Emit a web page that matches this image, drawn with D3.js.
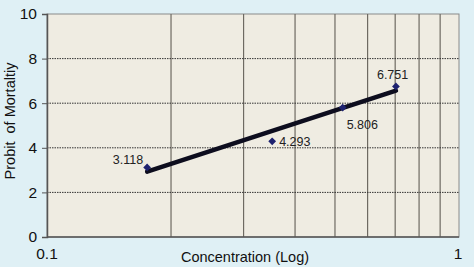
<!DOCTYPE html>
<html>
<head>
<meta charset="utf-8">
<script src="https://cdn.jsdelivr.net/npm/d3@7"></script>
<style>
  html,body{margin:0;padding:0;background:#dff0f5;}
  svg{display:block;font-family:Arial,"Liberation Sans",sans-serif;}
  text{white-space:pre;}
</style>
</head>
<body>
<svg id="chart" width="474" height="267"></svg>
<script>
// concentration and probit values
var conc = [0.175, 0.352, 0.522, 0.703];
var probit = [3.118, 4.293, 5.806, 6.751];
var labels = ["3.118", "4.293", "5.806", "6.751"];
// trend line ends
var trendX = [0.175, 0.703];
var trendY = [2.93, 6.56];
var yTicks = [0, 2, 4, 6, 8, 10];
var xGrid = [0.2, 0.3, 0.4, 0.5, 0.6, 0.7, 0.8, 0.9];

var W = 474, H = 267;
var m = {top: 14, right: 15, bottom: 30, left: 47};
var svg = d3.select("#chart");

var x = d3.scaleLog().domain([0.1, 1]).range([m.left, W - m.right]);
var y = d3.scaleLinear().domain([0, 10]).range([H - m.bottom, m.top]);

// plot area
svg.append("rect")
  .attr("x", x(0.1)).attr("y", y(10))
  .attr("width", x(1) - x(0.1)).attr("height", y(0) - y(10))
  .attr("fill", "#efece2").attr("stroke", "#8a8a8a").attr("stroke-width", 1);

// vertical grid
svg.selectAll(".vg").data(xGrid).enter().append("line")
  .attr("x1", function(d){ return x(d); }).attr("x2", function(d){ return x(d); })
  .attr("y1", y(10)).attr("y2", y(0))
  .attr("stroke", "#6e6a62").attr("stroke-width", 1.2);

// horizontal grid, dotted
svg.selectAll(".hg").data(yTicks.slice(1, -1)).enter().append("line")
  .attr("x1", x(0.1)).attr("x2", x(1))
  .attr("y1", function(d){ return y(d); }).attr("y2", function(d){ return y(d); })
  .attr("stroke", "#333").attr("stroke-width", 1).attr("stroke-dasharray", "1.5,1");

// axes
var yAxis = d3.axisLeft(y).tickValues(yTicks).tickSize(5).tickPadding(5);
var gy = svg.append("g").attr("transform", "translate(" + x(0.1) + ",0)").call(yAxis);
gy.select(".domain").attr("stroke", "#555").attr("stroke-width", 1.5);
gy.selectAll(".tick line").attr("stroke", "#555");
gy.selectAll("text").attr("font-size", 15.5).attr("fill", "#111").attr("font-family", "Arial,'Liberation Sans',sans-serif");

svg.append("line")
  .attr("x1", x(0.1)).attr("x2", x(1)).attr("y1", y(0)).attr("y2", y(0))
  .attr("stroke", "#555").attr("stroke-width", 1.5);

var gx = svg.append("g");
gx.selectAll("text").data([0.1, 1]).enter().append("text")
  .attr("x", function(d){ return x(d) + (d === 1 ? -1 : 0); })
  .attr("y", 259)
  .attr("text-anchor", "middle")
  .attr("font-size", 15.5).attr("fill", "#111")
  .text(function(d){ return d; });

// titles
svg.append("text")
  .attr("x", 245).attr("y", 262)
  .attr("text-anchor", "middle").attr("font-size", 14.5).attr("fill", "#111")
  .text("Concentration (Log)");
svg.append("text")
  .attr("transform", "translate(15,121) rotate(-90)")
  .attr("text-anchor", "middle").attr("font-size", 14.5).attr("fill", "#111")
  .text("Probit  of Mortaltiy");

// trend line
var line = d3.line().x(function(d){ return x(d[0]); }).y(function(d){ return y(d[1]); });
svg.append("path")
  .datum(d3.zip(trendX, trendY))
  .attr("d", line)
  .attr("fill", "none").attr("stroke", "#0d0d1e").attr("stroke-width", 4.5)
  .attr("stroke-linecap", "round");

// points, square turned into a diamond
var pts = d3.zip(conc, probit, labels);
svg.selectAll(".pt").data(pts).enter().append("path")
  .attr("d", d3.symbol(d3.symbolSquare, 30))
  .attr("transform", function(d){ return "translate(" + x(d[0]) + "," + y(d[1]) + ") rotate(45)"; })
  .attr("fill", "#1e2270");

// data labels
var lblOff = [[-4, -3, "end"], [7, 5, "start"], [4, 21, "start"], [-19, -7, "start"]];
svg.selectAll(".lb").data(pts).enter().append("text")
  .attr("x", function(d, i){ return x(d[0]) + lblOff[i][0]; })
  .attr("y", function(d, i){ return y(d[1]) + lblOff[i][1]; })
  .attr("text-anchor", function(d, i){ return lblOff[i][2]; })
  .attr("font-size", 12.5).attr("fill", "#222")
  .text(function(d){ return d[2]; });
</script>
</body>
</html>
